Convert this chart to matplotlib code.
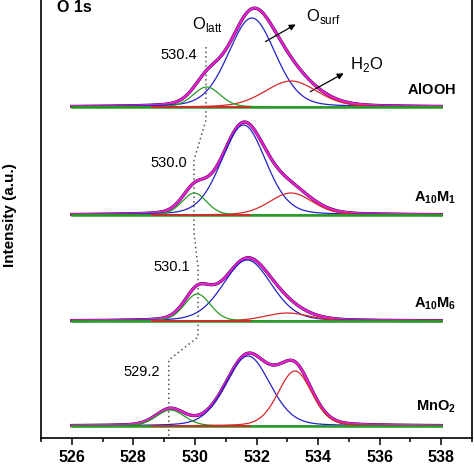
import numpy as np
import matplotlib
matplotlib.use('Agg')
import matplotlib.pyplot as plt
from matplotlib.ticker import MultipleLocator

plt.rcParams['font.family'] = ['Liberation Sans', 'DejaVu Sans']
plt.rcParams['mathtext.fontset'] = 'custom'
plt.rcParams['mathtext.rm'] = 'Liberation Sans'
plt.rcParams['mathtext.bf'] = 'Liberation Sans:bold'

# fitted O 1s components: centre (eV), height (a.u.), FWHM (eV)
samples = ['AlOOH', 'A10M1', 'A10M6', 'MnO2']
sample_labels = [r'$\mathbf{AlOOH}$', r'$\mathbf{A_{10}M_1}$',
                 r'$\mathbf{A_{10}M_6}$', r'$\mathbf{MnO_2}$']
latt_center = [530.38, 529.98, 530.08, 529.20]
latt_height = [20, 22, 27, 16]
latt_fwhm = [1.05, 0.95, 1.0, 1.1]
surf_center = [531.85, 531.58, 531.70, 531.72]
surf_height = [89, 90, 61, 70]
surf_fwhm = [1.8, 1.7, 1.85, 1.7]
h2o_center = [533.12, 533.12, 533.00, 533.25]
h2o_height = [26, 22, 8, 55]
h2o_fwhm = [2.0, 1.65, 1.7, 1.3]
peak_labels = ['530.4', '530.0', '530.1', '529.2']

# guide line through the lattice-oxygen peaks
guide_x = [530.36, 530.36, 529.97, 529.97, 530.10, 530.10, 529.15, 529.15]
guide_y = [391, 318, 278, 205, 171, 101, 78, -2]

offsets = [331, 223, 117, 12]

c_env = '#e41fd0'
c_surf = '#2323c8'
c_latt = '#279a27'
c_h2o = '#d62828'
mix = 0.2  # Gaussian-Lorentzian line shape


def peak(x, c, h, w):
    g = np.exp(-4 * np.log(2) * (x - c) ** 2 / w ** 2)
    lor = 1 / (1 + 4 * (x - c) ** 2 / w ** 2)
    return h * ((1 - mix) * g + mix * lor)


x = np.linspace(526, 538, 1200)

fig = plt.figure(figsize=(4.74, 4.74), dpi=100)
ax = fig.add_axes([41 / 474, 36 / 474, 431 / 474, 448 / 474])

for i, name in enumerate(samples):
    off = offsets[i]
    g_l = peak(x, latt_center[i], latt_height[i], latt_fwhm[i])
    g_s = peak(x, surf_center[i], surf_height[i], surf_fwhm[i])
    g_h = peak(x, h2o_center[i], h2o_height[i], h2o_fwhm[i])
    env = g_l + g_s + g_h
    ax.plot(x, env + off, color='black', lw=2.3, zorder=2)
    ax.plot(x, env + off, color=c_env, lw=1.9, zorder=3)
    ax.plot(x, g_s + off, color=c_surf, lw=0.9, zorder=4)
    ax.plot(x, g_h + off, color=c_h2o, lw=0.9, zorder=4)
    ax.plot(x, g_l + off, color=c_latt, lw=0.9, zorder=4)
    ax.plot([526, 538], [off, off], color=c_latt, lw=1.8, zorder=5)
    ax.plot([528.6, 531.8], [off, off], color=c_h2o, lw=1.3, zorder=5)
    ax.text(538.49, off + (17 if i < 3 else 19), sample_labels[i], ha='right', va='center',
            fontsize=10.5)

ax.plot(guide_x, guide_y, color='#555555', lw=1.1, linestyle=(0, (1, 2)), zorder=1)

label_pos = [(530.07, 383), (529.74, 275), (529.84, 171), (528.86, 66)]
for (lx, ly), t in zip(label_pos, peak_labels):
    ax.text(lx, ly, t, ha='right', va='center', fontsize=10.5)

ax.text(525.52, 430, 'O 1s', ha='left', va='center', fontsize=11.5, fontweight='bold')
ax.text(529.9, 413, r'O$_{\rm latt}$', ha='left', va='center', fontsize=12)
ax.text(533.6, 421, r'O$_{\rm surf}$', ha='left', va='center', fontsize=12)
ax.text(535.04, 374, r'H$_{\rm 2}$O', ha='left', va='center', fontsize=12)

ax.annotate('', xy=(533.35, 415), xytext=(532.21, 395),
            arrowprops=dict(arrowstyle='-|>', color='black', lw=0.9, mutation_scale=9))
ax.annotate('', xy=(534.91, 366), xytext=(533.67, 345),
            arrowprops=dict(arrowstyle='-|>', color='black', lw=0.9, mutation_scale=9))

ax.set_xlim(525, 539)
ax.set_ylim(0, 448)
ax.xaxis.set_major_locator(MultipleLocator(2))
ax.xaxis.set_minor_locator(MultipleLocator(1))
ax.set_yticks([])
ax.tick_params(axis='x', which='major', direction='out', length=5, width=1.1,
               labelsize=11.5, pad=4)
ax.tick_params(axis='x', which='minor', direction='out', length=3, width=1.1)
for lab in ax.get_xticklabels():
    lab.set_fontweight('bold')
ax.spines['top'].set_visible(False)
for s in ['left', 'right', 'bottom']:
    ax.spines[s].set_linewidth(1.2)

fig.text(10 / 474, 1 - 215 / 474, 'Intensity (a.u.)', rotation=90, ha='center', va='center',
         fontsize=11, fontweight='bold')

fig.savefig('out.png', dpi=100)
